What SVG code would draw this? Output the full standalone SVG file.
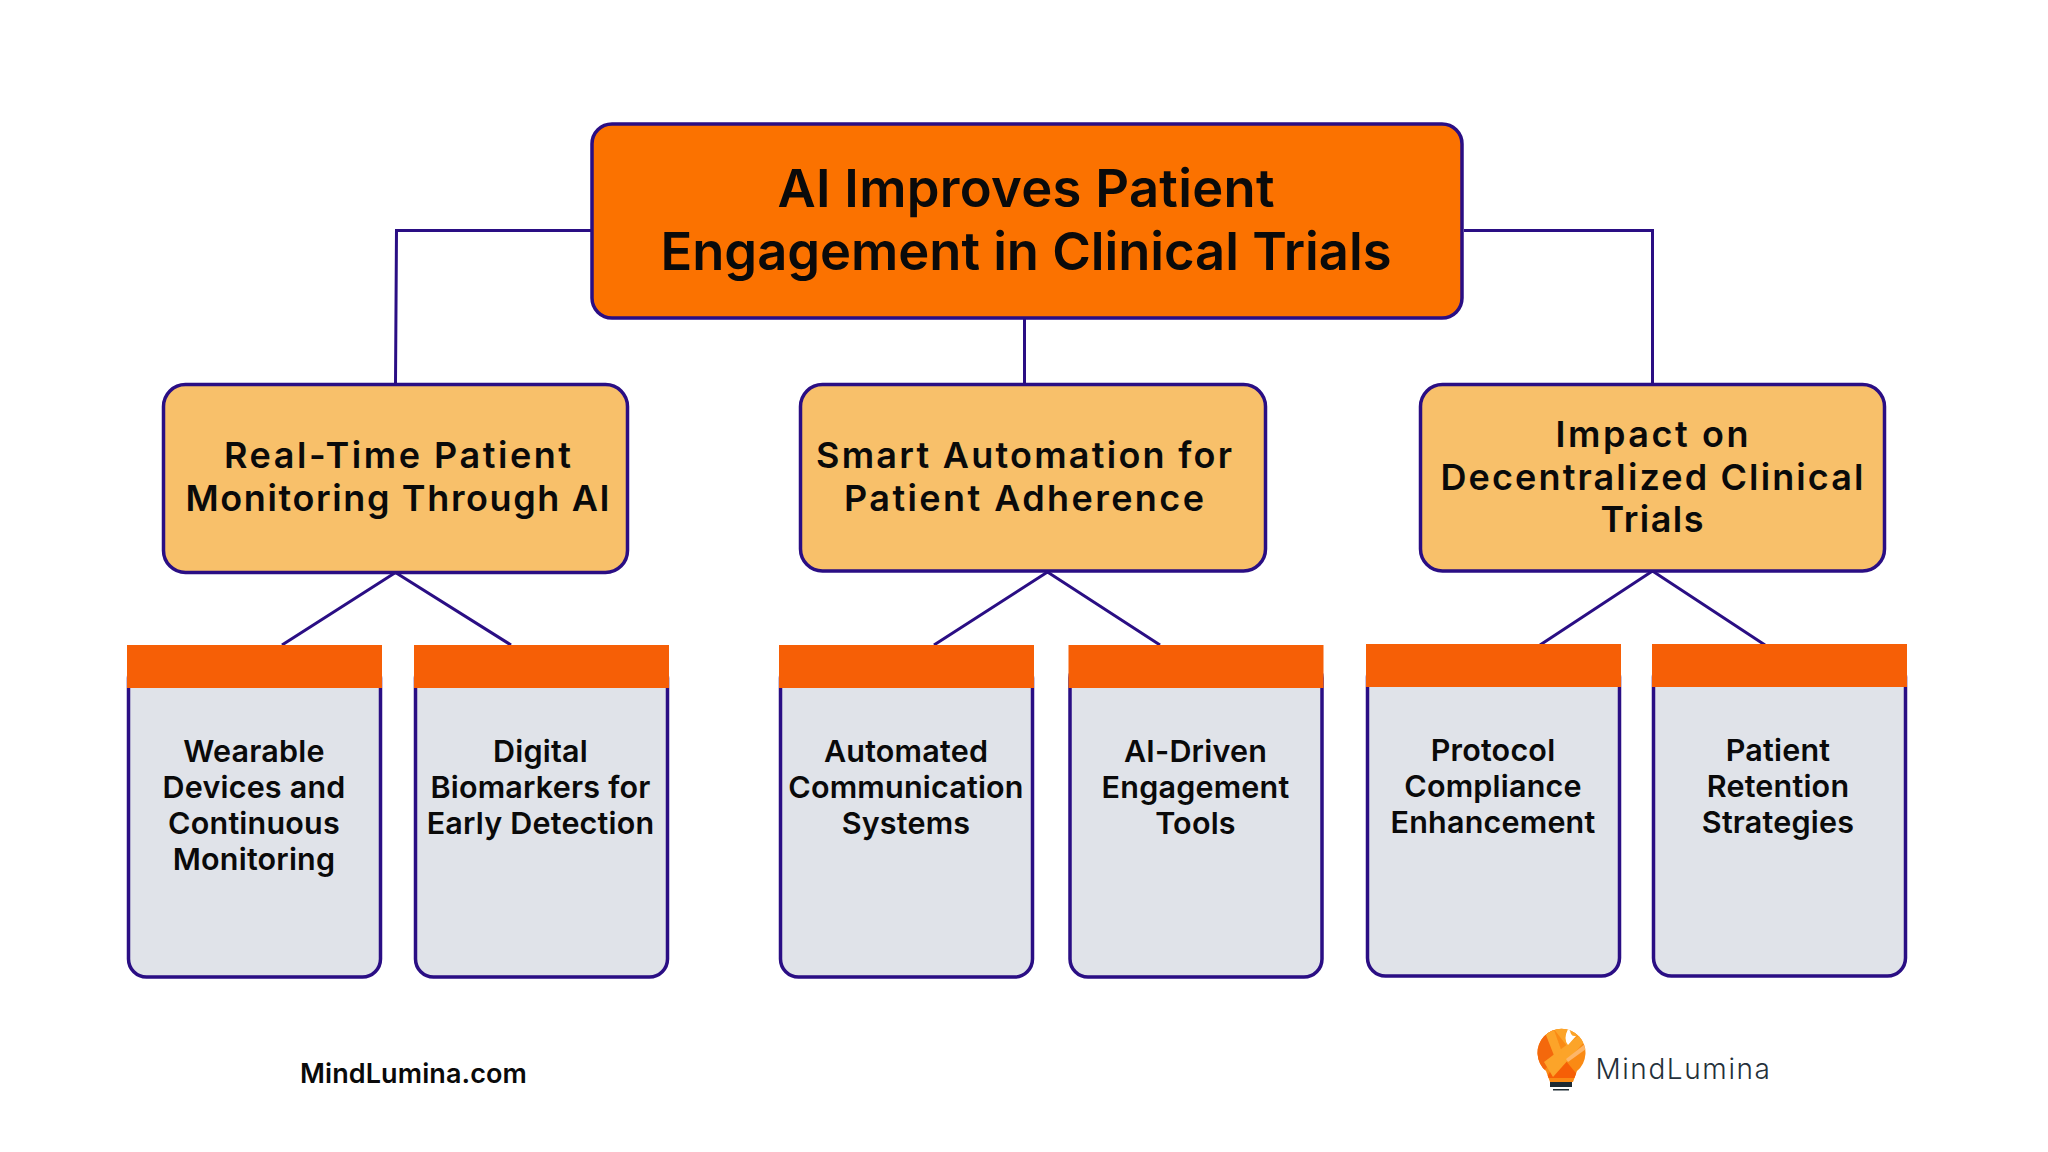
<svg xmlns="http://www.w3.org/2000/svg" width="2048" height="1152" viewBox="0 0 2048 1152">
<style>
text{font-family:"Inter","Liberation Sans",sans-serif;fill:#0a0a0a;text-anchor:middle}
.root rect{fill:#fb7200;stroke:#2a0e84;stroke-width:3.5}
.l2 rect{fill:#f8c06a;stroke:#2a0e84;stroke-width:3.5}
.body{fill:#e0e3e9;stroke:#2a0e84;stroke-width:3.5}
.head{fill:#f65f06}
.t1{font-size:52.500px;font-weight:600}
.t2{font-size:36px;font-weight:600}
.t3{font-size:30.500px;font-weight:600;letter-spacing:.2px}
#connectors path{fill:none;stroke:#2a0e84;stroke-width:3}
</style>
<defs><clipPath id="bulb"><path d="M1546 1071A24 24 0 1 1 1577 1071L1573 1082H1550Z"/></clipPath></defs>
<rect width="2048" height="1152" fill="#fff"/>
<g id="connectors">
<path d="M591 230.500H396.500L395.500 384"/>
<path d="M1464 230.500H1652.500V384"/>
<path d="M1024.500 317V384"/>
<path d="M282 645L395.500 572.500L511 645"/>
<path d="M934 645L1047.500 572L1160 645"/>
<path d="M1540 645L1652.500 571L1765 645"/>
</g>
<g id="root" class="root"><rect x="592" y="124" width="870" height="194" rx="20"/>
<text class="t1" x="1026" y="207" textLength="497">AI Improves Patient</text>
<text class="t1" x="1026" y="270" textLength="731">Engagement in Clinical Trials</text></g>
<g id="branch1" class="l2"><rect x="163.500" y="384.500" width="464" height="188" rx="22"/>
<text class="t2" x="397.500" y="468" textLength="347">Real-Time Patient</text>
<text class="t2" x="397.500" y="511" textLength="424">Monitoring Through AI</text></g>
<g id="branch2" class="l2"><rect x="800.500" y="384.500" width="465" height="186.500" rx="22"/>
<text class="t2" x="1024" y="468" textLength="416">Smart Automation for</text>
<text class="t2" x="1024" y="511" textLength="360">Patient Adherence</text></g>
<g id="branch3" class="l2"><rect x="1420.500" y="384.500" width="464" height="186.500" rx="22"/>
<text class="t2" x="1652" y="447" textLength="193">Impact on</text>
<text class="t2" x="1652" y="489.500" textLength="423">Decentralized Clinical</text>
<text class="t2" x="1652" y="532" textLength="103">Trials</text></g>
<g id="leaf1"><rect class="body" x="128.500" y="660" width="252" height="317" rx="18"/><rect class="head" x="127" y="645" width="255" height="43"/>
<text class="t3" x="254" y="762">Wearable</text><text class="t3" x="254" y="798">Devices and</text><text class="t3" x="254" y="834">Continuous</text><text class="t3" x="254" y="870">Monitoring</text></g>
<g id="leaf2"><rect class="body" x="415.500" y="660" width="252" height="317" rx="18"/><rect class="head" x="414" y="645" width="255" height="43"/>
<text class="t3" x="540.500" y="762">Digital</text><text class="t3" x="540.500" y="798">Biomarkers for</text><text class="t3" x="540.500" y="834">Early Detection</text></g>
<g id="leaf3"><rect class="body" x="780.500" y="660" width="252" height="317" rx="18"/><rect class="head" x="779" y="645" width="255" height="43"/>
<text class="t3" x="906" y="762">Automated</text><text class="t3" x="906" y="798">Communication</text><text class="t3" x="906" y="834">Systems</text></g>
<g id="leaf4"><rect class="body" x="1070" y="660" width="252" height="317" rx="18"/><rect class="head" x="1068.500" y="645" width="255" height="43"/>
<text class="t3" x="1195.500" y="762">AI-Driven</text><text class="t3" x="1195.500" y="798">Engagement</text><text class="t3" x="1195.500" y="834">Tools</text></g>
<g id="leaf5"><rect class="body" x="1367.500" y="659" width="252" height="317" rx="18"/><rect class="head" x="1366" y="644" width="255" height="43"/>
<text class="t3" x="1493" y="761">Protocol</text><text class="t3" x="1493" y="797">Compliance</text><text class="t3" x="1493" y="833">Enhancement</text></g>
<g id="leaf6"><rect class="body" x="1653.500" y="659" width="252" height="317" rx="18"/><rect class="head" x="1652" y="644" width="255" height="43"/>
<text class="t3" x="1778" y="761">Patient</text><text class="t3" x="1778" y="797">Retention</text><text class="t3" x="1778" y="833">Strategies</text></g>
<g id="footer-site"><text x="413.500" y="1083" font-size="27" font-weight="600" style="letter-spacing:.1px">MindLumina.com</text></g>
<g id="logo">
<g clip-path="url(#bulb)">
<rect x="1530" y="1025" width="62" height="60" fill="#fa8a14"/>
<path d="M1530 1025H1552L1561 1050L1543 1072H1530Z" fill="#f4680c"/>
<path d="M1546 1078L1561 1055L1580 1078Z" fill="#f65f06"/>
<path d="M1544 1062L1581 1034L1586 1040L1553 1077Z" fill="#fca429"/>
<path d="M1544 1030L1553 1027L1562 1052L1555 1058Z" fill="#fca429"/>
<path d="M1553 1028H1585L1567 1046Z" fill="#fca429"/>
<path d="M1568 1029Q1563 1039 1568 1045L1576 1036Q1570 1037 1570 1029Z" fill="#fff"/>
<path d="M1566 1059L1590 1040L1590 1046L1568 1062Z" fill="#fdb668"/>
</g>
<rect x="1550" y="1082" width="22" height="5" fill="#1d2a33"/>
<rect x="1553" y="1089" width="16" height="1.500" fill="#1d2a33"/>
<text x="1683.500" y="1079" font-size="28" font-weight="300" style="fill:#24303a;letter-spacing:1.600px">MindLumina</text>
</g>
</svg>
